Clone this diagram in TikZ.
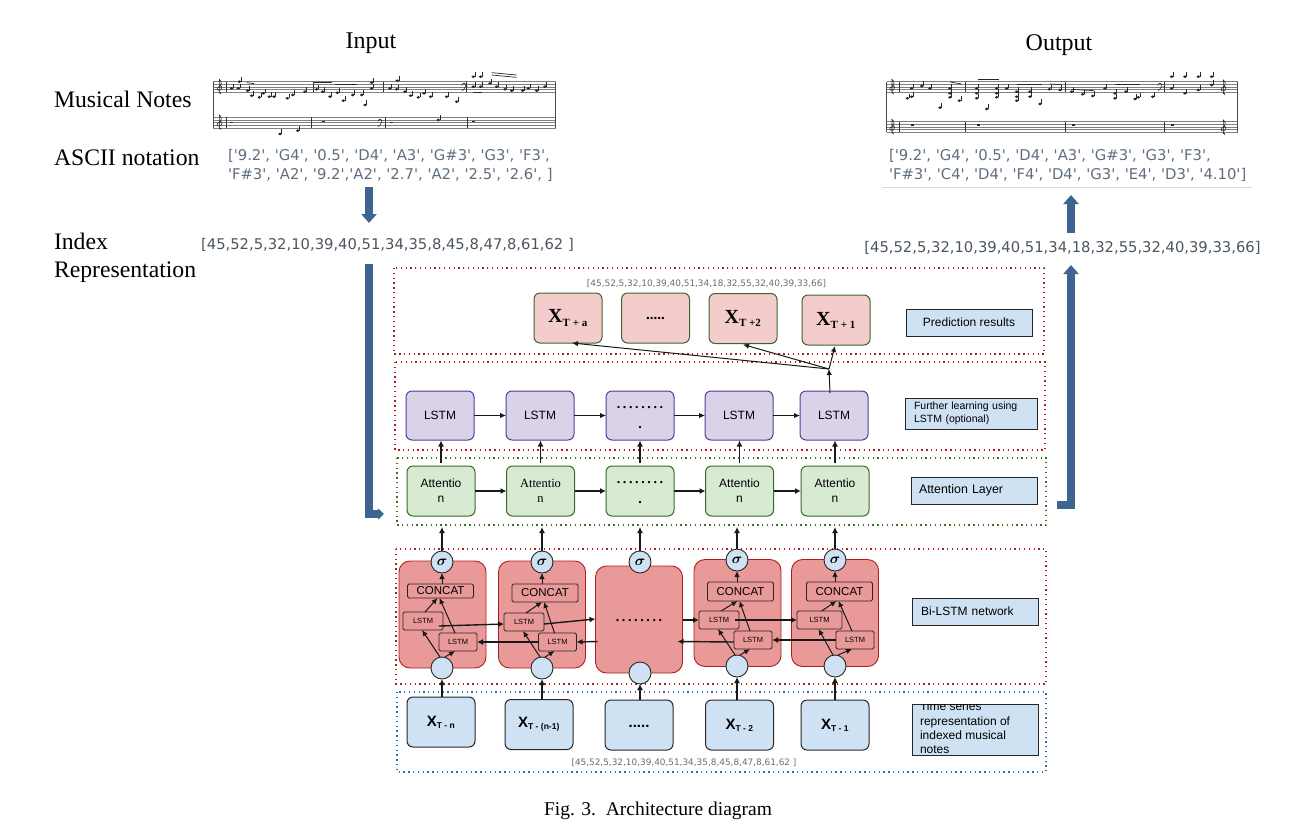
\documentclass[tikz,border=0pt]{standalone}
\usepackage{fontspec}
\setmainfont{Liberation Serif}
\newfontfamily\arial{Liberation Sans}
\newfontfamily\dejavu{DejaVu Sans}
\usetikzlibrary{arrows.meta,calc}
\definecolor{bigblue}{HTML}{3E6491}
\definecolor{asciiC}{HTML}{5F6E7E}
\definecolor{idxC}{HTML}{4A5560}
\definecolor{smallC}{HTML}{6A6A6A}
\definecolor{lightblue}{HTML}{CFE2F3}
\newcommand{\wdots}{.\kern2.6pt.\kern2.6pt.\kern2.6pt.\kern2.6pt.\kern2.6pt.\kern2.6pt.\kern2.6pt.}
\tikzset{
  every node/.style={inner sep=0pt,outer sep=0pt},
  rbox/.style={draw,rounded corners=6pt,line width=1pt,minimum width=68pt,minimum height=50pt,align=center,font=\arial\fontsize{12}{15}\selectfont},
  pred/.style={rbox,fill={rgb,255:red,244;green,204;blue,204},draw={rgb,255:red,60;green,100;blue,45},font=\bfseries\fontsize{20}{22}\selectfont},
  lstm/.style={rbox,fill={rgb,255:red,217;green,210;blue,233},draw={rgb,255:red,85;green,60;blue,150},minimum height=49pt},
  attn/.style={rbox,fill={rgb,255:red,217;green,234;blue,211},draw={rgb,255:red,56;green,105;blue,40}},
  inp/.style={rbox,fill=lightblue,draw=black!85,font=\arial\bfseries\fontsize{15}{17}\selectfont},
  dotsf/.style={font=\bfseries\fontsize{14}{20}\selectfont},
  cell/.style={draw={rgb,255:red,176;green,28;blue,28},fill={rgb,255:red,234;green,153;blue,153},rounded corners=11pt,line width=0.9pt,minimum width=87pt,minimum height=107pt},
  circ/.style={circle,draw=black!85,fill=lightblue,line width=0.9pt,minimum size=22pt,font=\boldmath\fontsize{14}{14}\selectfont},
  inner/.style={draw=black!85,rounded corners=1.5pt,line width=0.9pt,fill={rgb,255:red,234;green,153;blue,153},font=\arial\fontsize{7.5}{8}\selectfont},
  conc/.style={inner,font=\arial\fontsize{11.5}{12}\selectfont,minimum width=66pt},
  label/.style={draw=black!85,fill=lightblue,line width=0.9pt,font=\arial\fontsize{12}{14.4}\selectfont},
  dotb/.style={line width=1.3pt,dash pattern=on 1.3pt off 3.5pt},
  arr/.style={-{Latex[length=6pt,width=5.5pt]},line width=1pt,draw=black!90},
  arrb/.style={-{Latex[length=6pt,width=6pt]},line width=1.4pt,draw=black!90},
  big/.style={-{Triangle[length=9pt,width=15pt]},line width=7.5pt,draw=bigblue},
  ser/.style={font=\fontsize{23.7}{25}\selectfont,anchor=base west},
  asc/.style={font=\dejavu\fontsize{14.8}{19}\selectfont,text=asciiC,align=left,anchor=west},
  idx/.style={font=\dejavu\fontsize{14.75}{16}\selectfont,text=idxC,anchor=center},
  smalli/.style={font=\dejavu\fontsize{8.9}{10}\selectfont,text=smallC,anchor=center},
}
\newcommand{\sheet}[7]{%
  \foreach \yy in {0,1,2,3,4}{
    \draw[black!50,line width=0.35pt] (#2,#4+\yy*8) -- (#3,#4+\yy*8);
    \draw[black!50,line width=0.35pt] (#2,#5+\yy*8) -- (#3,#5+\yy*8);
  }
  \foreach \bx in {#6}{\draw[black!80,line width=0.5pt] (\bx,#4) -- (\bx,#4+32);}
  \foreach \bx in {#7}{\draw[black!80,line width=0.5pt] (\bx,#5) -- (\bx,#5+32);}
  \draw[black!70,line width=0.5pt] (#2,#4) -- (#2,#5+32);
  \draw[black!70,line width=0.5pt] (#3,#4) -- (#3,#5+32);
}
\newcommand{\clefG}[2]{\draw[black!85,line width=0.6pt] (#1+2,#2+26) .. controls (#1+8,#2+30) and (#1+2,#2+34) .. (#1,#2+28) -- (#1,#2-12) .. controls (#1+8,#2-6) and (#1+10,#2+6) .. (#1-6,#2+14) .. controls (#1-12,#2+22) and (#1+8,#2+26) .. (#1+8,#2+12) .. controls (#1+6,#2+4) and (#1-4,#2+8) .. (#1,#2+14);}
\newcommand{\clefF}[2]{\draw[black!85,line width=0.6pt] (#1-6,#2+4) .. controls (#1-4,#2-6) and (#1+8,#2-4) .. (#1+4,#2+8) .. controls (#1+2,#2+14) and (#1-2,#2+18) .. (#1-6,#2+20); \fill[black!85] (#1+9,#2+1) circle (0.5pt) (#1+9,#2+8) circle (0.5pt);}
\newcommand{\notes}[1]{\foreach \a/\b in {#1}{
  \fill[black!85] (\a,\b) ellipse [x radius=1.9pt,y radius=1.4pt];
  \draw[black!85,line width=0.4pt] (\a+5,\b) -- (\a+5,\b-14);}}
\newcommand{\rests}[1]{\foreach \a/\b in {#1}{\fill[black!85] (\a-4,\b-2) rectangle (\a+5,\b+2);}}
\newcommand{\beams}[1]{\foreach \a/\b/\c/\d in {#1}{\draw[black!85,line width=0.7pt] (\a,\b) -- (\c,\d);}}
\begin{document}
\begin{tikzpicture}[x=1pt,y=-1pt]
\useasboundingbox (0,0) rectangle (1301,839);
% --- titles and left labels
\node[font=\fontsize{24}{26}\selectfont,anchor=base] (tin) at (371,48) {Input};
\node[font=\fontsize{24}{26}\selectfont,anchor=base] (tout) at (1059,50) {Output};
\node[ser] (l1) at (54,107) {Musical Notes};
\node[ser] (l2) at (54,165) {ASCII notation};
\node[ser] (l3) at (54,249) {Index};
\node[ser] (l4) at (54,277) {Representation};
\node[font=\fontsize{19.5}{21}\selectfont,anchor=base] (cap) at (658,815) {Fig. 3.\ \ Architecture diagram};
% --- input sheet
\begin{scope}[shift={(200,60)},x=0.3333pt,y=-0.3333pt]
\sheet{0}{40}{1067}{65}{172}{80,340,550,800}{80,333,555,803}
\clefG{58}{70}\clefG{58}{177}\clefF{792}{72}\clefF{540}{180}
\notes{95/85,115/85,118/65,143/92,155/107,178/112,190/100,208/110,222/110,262/115,278/105,315/95,350/88,368/95,390/110,412/98,430/122,458/105,485/105,495/135,515/85,515/68,570/85,590/88,592/62,615/95,632/107,655/112,672/100,692/110,740/110,770/125,820/80,842/80,820/50,842/50,870/70,890/80,915/88,935/92,968/92,985/85,1010/92,1035/80}
\beams{342/68/395/68,140/68/163/71,405/72/470/72,820/97/845/97,875/38/950/45,875/45/950/52}
\rests{95/187,370/185,575/187,820/185}
\notes{240/222,293/212,715/180}
\end{scope}
% --- output sheet
\begin{scope}[shift={(870,60)},x=0.3333pt,y=-0.3333pt]
\sheet{0}{50}{1103}{65}{185}{88,285,585,883}{88,285,585,883}
\clefG{66}{70}\clefG{66}{190}\clefG{1060}{72}\clefG{1060}{192}\clefF{870}{72}
\notes{125/85,112/115,125/110,155/78,180/85,210/143,240/85,240/100,240/112,268/122,320/85,320/100,320/115,350/147,380/85,380/100,380/112,410/85,440/95,440/110,440/122,480/95,480/110,510/132,538/88,570/90,605/95,638/103,668/108,705/85,735/100,735/115,768/95,805/112,795/117,848/110,905/85,905/50,945/50,945/100,985/50,985/90,1025/50,1025/75}
\beams{325/58/388/58,240/66/275/72,440/72/515/72,540/72/575/74,605/88/672/92,735/72/810/72}
\rests{128/195,326/195,610/195,907/195}
\end{scope}
% --- ascii and indices
\node[asc] (a1) at (228,165) {['9.2', 'G4', '0.5', 'D4', 'A3', 'G\#3', 'G3', 'F3',\\'F\#3', 'A2', '9.2','A2', '2.7', 'A2', '2.5', '2.6', ]};
\node[asc] (a2) at (889,165) {['9.2', 'G4', '0.5', 'D4', 'A3', 'G\#3', 'G3', 'F3',\\'F\#3', 'C4', 'D4', 'F4', 'D4', 'G3', 'E4', 'D3', '4.10']};
\coordinate (ruleA) at (882,187); \coordinate (ruleB) at (1252,187);
\draw[black!15,line width=0.7pt] (ruleA) -- (ruleB);
\node[idx] (i1) at (387.5,245) {[45,52,5,32,10,39,40,51,34,35,8,45,8,47,8,61,62 ]};
\node[idx] (i2) at (1062.5,248) {[45,52,5,32,10,39,40,51,34,18,32,55,32,40,39,33,66]};
\node[smalli] (i3) at (706.5,284) {[45,52,5,32,10,39,40,51,34,18,32,55,32,40,39,33,66]};
\node[smalli] (i4) at (684,763) {[45,52,5,32,10,39,40,51,34,35,8,45,8,47,8,61,62 ]};
% --- dotted frames
\draw[dotb,draw={rgb,255:red,170;green,30;blue,30}] (394,268) rectangle (1044,354);
\draw[dotb,draw={rgb,255:red,170;green,30;blue,30}] (395,362) rectangle (1045,450);
\draw[dotb,draw={rgb,255:red,60;green,110;blue,40}] (397,458) rectangle (1046,525);
\draw[dotb,draw={rgb,255:red,160;green,40;blue,30}] (396,549) rectangle (1046,684);
\draw[dotb,draw={rgb,255:red,40;green,110;blue,180}] (397,692) rectangle (1046,772);
% --- big arrows
\coordinate (b1a) at (369,187); \coordinate (b1b) at (369,223);
\draw[big] (b1a) -- (b1b);
\coordinate (b2a) at (1071,233); \coordinate (b2b) at (1071,195);
\draw[big] (b2a) -- (b2b);
\coordinate (b3a) at (369,264); \coordinate (b3m) at (369,514); \coordinate (b3b) at (384,514);
\draw[big,-{Triangle[length=6pt,width=11pt]}] (b3a) -- (b3m) -- (b3b);
\coordinate (b4a) at (1057,505); \coordinate (b4m) at (1071,505); \coordinate (b4b) at (1071,265);
\draw[big] (b4a) -- (b4m) -- (b4b);
% --- prediction row
\node[pred] (p1) at (568,318) {X\textsubscript{\fontsize{11}{11}\selectfont T + a}};
\node[pred,font=\bfseries\fontsize{15}{15}\selectfont] (p2) at (655.5,318) {\raisebox{-4pt}{.....}};
\node[pred] (p3) at (743,318.5) {X\textsubscript{\fontsize{11}{11}\selectfont T +2}};
\node[pred] (p4) at (836,320) {X\textsubscript{\fontsize{11}{11}\selectfont T + 1}};
% --- LSTM row
\node[lstm] (m1) at (440,415.5) {LSTM};
\node[lstm] (m2) at (540,415.5) {LSTM};
\node[lstm,dotsf] (m3) at (640,415.5) {\raisebox{-6pt}{\wdots}\\\raisebox{-6pt}{.}};
\node[lstm] (m4) at (739,415.5) {LSTM};
\node[lstm] (m5) at (834,415.5) {LSTM};
% --- attention row
\node[attn] (n1) at (441,491) {Attentio\\n};
\node[attn,font=\fontsize{12.5}{15}\selectfont] (n2) at (540.5,491) {Attentio\\n};
\node[attn,dotsf] (n3) at (640,491) {\raisebox{-4.5pt}{\wdots}\\\raisebox{-4.5pt}{.}};
\node[attn] (n4) at (739.5,491) {Attentio\\n};
\node[attn] (n5) at (835,491) {Attentio\\n};
% --- cells
\node[cell] (c1) at (442.5,614.5) {};
\node[cell] (c2) at (542,614.5) {};
\node[cell,dotsf] (c3) at (639,619.5) {\raisebox{-5pt}{\wdots}};
\node[cell] (c4) at (737.5,613) {};
\node[cell] (c5) at (835,613) {};
\foreach \i/\sx/\sy/\bx/\by in {1/442/562/442/668,2/542/562/542/668,3/640/562/640/673,4/737/560/737/666,5/835/560/835/666}{
  \node[circ] (s\i) at (\sx,\sy) {$\sigma$};
  \node[circ] (d\i) at (\bx,\by) {};
}
\node[conc,minimum height=14pt] (k1) at (440.5,591) {CONCAT};
\node[conc,minimum height=18pt] (k2) at (545,593) {CONCAT};
\node[conc,minimum height=19pt] (k4) at (740.5,591.5) {CONCAT};
\node[conc,minimum height=19pt] (k5) at (839.5,591.5) {CONCAT};
\foreach \i/\ux/\uy/\uw/\lx/\ly in {1/423/621/40/458/642,2/524/622/40/557.5/642,4/719/620/40/753/640,5/819.5/620/45/855/640}{
  \node[inner,minimum width=\uw pt,minimum height=18pt] (u\i) at (\ux,\uy) {LSTM};
  \node[inner,minimum width=38pt,minimum height=18pt] (l\i) at (\lx,\ly) {LSTM};
}
\foreach \i in {1,2,4,5}{
  \draw[arr] ($(d\i.north)+(-2,0)$) -- ($(u\i.south)+(-1,0)$);
  \draw[arr] ($(d\i.north)+(3,0)$) -- ($(l\i.south)+(-3,0)$);
  \draw[arr] ($(u\i.north)+(2,0)$) -- ($(k\i.south)+(-3,0)$);
  \draw[arr] ($(l\i.north)+(-3,0)$) -- ($(k\i.south)+(-1,0)$);
  \draw[arr] (k\i.north -| s\i.south) -- (s\i.south);
}
% --- horizontal arrows
\foreach \a/\b in {m1/m2,m2/m3,m3/m4,m4/m5}{\draw[arr] (\a.east) -- (\b.west);}
\foreach \a/\b in {n1/n2,n2/n3,n3/n4,n4/n5}{\draw[arrb] (\a.east) -- (\b.west);}
\draw[arrb] ($(u1.east)+(-4,5)$) -- ($(u2.west)+(0,2)$);
\draw[arrb] ($(u2.east)+(0,2)$) -- ($(c3.west)+(0,-0.5)$);
\draw[arrb] ($(c3.east)+(0,0.5)$) -- (u4.west);
\draw[arrb] ($(u4.east)+(-4,0)$) -- (u5.west);
\draw[arrb] (l5.west) -- (l4.east);
\draw[arrb] ($(l4.west)+(0,2)$) -- ($(c3.east)+(-5,22)$);
\draw[arrb] ($(c3.west)+(2,22)$) -- (l2.east);
\draw[arrb] (l2.west) -- (l1.east);
% --- vertical arrows
\foreach \i in {1,2,3,4,5}{
  \coordinate (t\i) at (s\i.north);
  \coordinate (e\i) at ($(s\i.north |- n1.south)+(0,11)$);
  \draw[arrb] (t\i) -- (e\i);
  \draw[arrb] ($(n\i.north)+(0,-3)$) -- ($(n\i.north |- m\i.south)+(0,0.5)$);
}
\node[inp] (x1) at (441,722) {X\textsubscript{\fontsize{8.5}{10}\selectfont T - n}};
\node[inp] (x2) at (539,724.5) {X\textsubscript{\fontsize{8.5}{10}\selectfont T - (n-1)}};
\node[inp,font=\arial\bfseries\fontsize{15}{15}\selectfont] (x3) at (639,725) {\raisebox{-5pt}{.....}};
\node[inp] (x4) at (739.5,725) {X\textsubscript{\fontsize{8.5}{10}\selectfont T - 2}};
\node[inp] (x5) at (835,725) {X\textsubscript{\fontsize{8.5}{10}\selectfont T - 1}};
\foreach \i in {1,2,3,4,5}{\draw[arrb] (d\i.south |- x\i.north) -- (d\i.south);}
% --- fan out
\coordinate (fan) at (829,369);
\draw[arr] ($(m5.north)+(-4,2)$) -- (fan);
\draw[arr] (fan) -- ($(p1.south)+(4,0)$);
\draw[arr] (fan) -- ($(p3.south)+(0,1)$);
\draw[arr] (fan) -- ($(p4.south)+(-1,1)$);
% --- side labels
\node[label,minimum width=126pt,minimum height=27pt] (r1) at (969,322.5) {Prediction results};
\node[label,font=\arial\fontsize{10.5}{13}\selectfont,minimum width=132pt,minimum height=31pt,text width=114pt,align=left] (r2) at (971,413.5) {Further learning using\\LSTM (optional)};
\node[label,font=\arial\fontsize{12.4}{15}\selectfont,minimum width=126pt,minimum height=27pt,text width=110pt,align=left] (r3) at (974,490.5) {Attention Layer};
\node[label,minimum width=126pt,minimum height=27pt,text width=108pt,align=left] (r4) at (975,611.5) {Bi-LSTM network};
\node[label,minimum width=126pt,minimum height=51pt] (r5) at (975,729.5) {};
\begin{scope}
\clip (912,704) rectangle (1038,755);
\node[font=\arial\fontsize{12}{14.4}\selectfont,align=left,anchor=north west] (r5t) at (920,702) {Time series\\representation of\\indexed musical\\notes};
\end{scope}
\end{tikzpicture}
\end{document}
